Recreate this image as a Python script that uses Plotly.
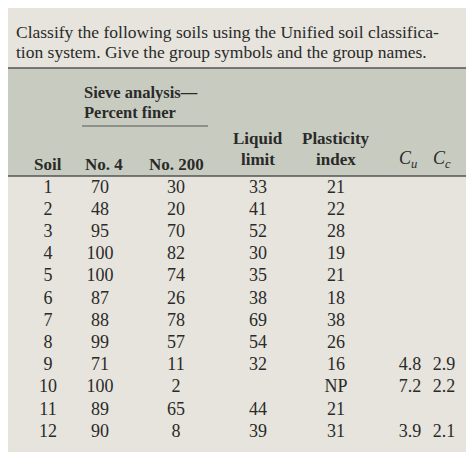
import plotly.graph_objects as go

soil = [str(i) for i in range(1, 13)]
no4 = ["70", "48", "95", "100", "100", "87", "88", "99", "71", "100", "89", "90"]
no200 = ["30", "20", "70", "82", "74", "26", "78", "57", "11", "2", "65", "8"]
liquid = ["33", "41", "52", "30", "35", "38", "69", "54", "32", "", "44", "39"]
plastic = ["21", "22", "28", "19", "21", "18", "38", "26", "16", "NP", "21", "31"]
cu = ["", "", "", "", "", "", "", "", "4.8", "7.2", "", "3.9"]
cc = ["", "", "", "", "", "", "", "", "2.9", "2.2", "", "2.1"]

W, H = 474, 452
FONT = "Liberation Serif"
row_y = [180 + i * 22.2 for i in range(12)]

fig = go.Figure()
cols = [(soil, 40), (no4, 92), (no200, 168), (liquid, 250), (plastic, 328), (cu, 402), (cc, 436)]
for vals, x in cols:
    fig.add_trace(go.Scatter(
        x=[x] * len(vals), y=row_y, text=vals, mode="text",
        textfont={"family": FONT, "size": 18, "color": "#2a2a2a"},
        showlegend=False, hoverinfo="skip"
    ))

fig.add_shape(type="rect", x0=0, x1=474, y0=60, y1=168, fillcolor="#c8ccc0", line_width=0, layer="below")
fig.add_shape(type="line", x0=0, x1=474, y0=60, y1=60, line={"color": "#555", "width": 1.5})
fig.add_shape(type="line", x0=0, x1=474, y0=168, y1=168, line={"color": "#555", "width": 1.5})
fig.add_shape(type="line", x0=74, x1=200, y0=118, y1=118, line={"color": "#555", "width": 1})

notes = [
    (6, 24, "Classify the following soils using the Unified soil classifica-", "left", 17.5),
    (6, 44, "tion system. Give the group symbols and the group names.", "left", 17.5),
    (74, 84, "<b>Sieve analysis—</b>", "left", 16.5),
    (74, 104, "<b>Percent finer</b>", "left", 16.5),
    (40, 156, "<b>Soil</b>", "center", 17),
    (96, 156, "<b>No. 4</b>", "center", 17),
    (168, 156, "<b>No. 200</b>", "center", 17),
    (250, 130, "<b>Liquid</b>", "center", 17),
    (250, 151, "<b>limit</b>", "center", 17),
    (328, 130, "<b>Plasticity</b>", "center", 17),
    (328, 151, "<b>index</b>", "center", 17),
    (400, 151, "<i>C<sub>u</sub></i>", "center", 18),
    (434, 151, "<i>C<sub>c</sub></i>", "center", 18),
]
for x, y, t, al, s in notes:
    fig.add_annotation(x=x, y=y, text=t, showarrow=False, xanchor=al, yanchor="middle",
                       font={"family": FONT, "size": s, "color": "#2a2a2a"})

fig.update_layout(
    width=W, height=H, margin={"l": 0, "r": 0, "t": 0, "b": 0},
    paper_bgcolor="#e6e4dc", plot_bgcolor="#e6e4dc",
    xaxis={"range": [0, W], "visible": False, "fixedrange": True},
    yaxis={"range": [H, 0], "visible": False, "fixedrange": True},
)
fig.write_html("out.html")
